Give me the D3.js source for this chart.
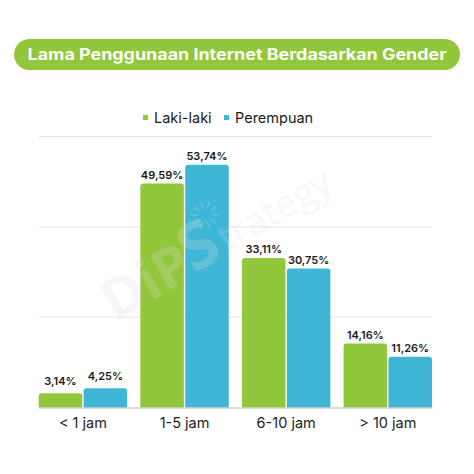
<!DOCTYPE html>
<html>
<head>
<meta charset="utf-8">
<script src="https://cdn.jsdelivr.net/npm/d3@7"></script>
<style>
  html, body { margin: 0; padding: 0; background: #fff; }
</style>
</head>
<body>
<div id="chart"></div>
<script>
var categories = ["< 1 jam", "1-5 jam", "6-10 jam", "> 10 jam"];
var seriesNames = ["Laki-laki", "Perempuan"];
var lakiLaki = [3.14, 49.59, 33.11, 14.16];
var perempuan = [4.25, 53.74, 30.75, 11.26];
var labelsLaki = ["3,14%", "49,59%", "33,11%", "14,16%"];
var labelsPerempuan = ["4,25%", "53,74%", "30,75%", "11,26%"];
var gridTicks = [20, 40, 60];
var titleText = "Lama Penggunaan Internet Berdasarkan Gender";

var width = 474, height = 474;
var green = "#93c73b", blue = "#3fb6d6";
var labelFont = "Inter, 'Open Sans', sans-serif";

var svg = d3.select("#chart")
    .append("svg")
    .attr("width", width)
    .attr("height", height)
    .style("display", "block");

// title pill
svg.append("rect")
    .attr("x", 14).attr("y", 39)
    .attr("width", 446).attr("height", 31)
    .attr("rx", 15.5)
    .attr("fill", green);

svg.append("text")
    .attr("x", 237).attr("y", 60)
    .attr("text-anchor", "middle")
    .attr("textLength", 419)
    .attr("lengthAdjust", "spacingAndGlyphs")
    .style("font-family", labelFont)
    .style("font-weight", 700)
    .style("font-size", "15.5px")
    .attr("fill", "#fbfdf6")
    .text(titleText);

var x = d3.scaleBand()
    .domain(categories)
    .range([38.7, 432])
    .paddingInner(0.13)
    .paddingOuter(0);

var x1 = d3.scaleBand()
    .domain(seriesNames)
    .range([0, x.bandwidth()])
    .paddingInner(0.03);

var y = d3.scaleLinear()
    .domain([0, 60])
    .range([407.5, 136.5]);

// grid
svg.append("g")
    .selectAll("line")
    .data(gridTicks)
    .join("line")
    .attr("x1", 38.7).attr("x2", 432)
    .attr("y1", function (d) { return y(d); })
    .attr("y2", function (d) { return y(d); })
    .attr("stroke", "#e6e6e6")
    .attr("stroke-width", 1);

function topRounded(x0, y0, w, h, r) {
    var p = d3.path();
    p.moveTo(x0, y0 + h);
    p.lineTo(x0, y0 + r);
    p.quadraticCurveTo(x0, y0, x0 + r, y0);
    p.lineTo(x0 + w - r, y0);
    p.quadraticCurveTo(x0 + w, y0, x0 + w, y0 + r);
    p.lineTo(x0 + w, y0 + h);
    p.closePath();
    return p.toString();
}

var rows = categories.map(function (c, i) {
    return [
        { cat: c, name: seriesNames[0], value: lakiLaki[i], label: labelsLaki[i], color: green },
        { cat: c, name: seriesNames[1], value: perempuan[i], label: labelsPerempuan[i], color: blue }
    ];
});

var groups = svg.append("g")
    .selectAll("g")
    .data(rows)
    .join("g")
    .attr("transform", function (d, i) { return "translate(" + x(categories[i]) + ",0)"; });

groups.selectAll("path")
    .data(function (d) { return d; })
    .join("path")
    .attr("d", function (d) {
        return topRounded(x1(d.name), y(d.value), x1.bandwidth(), y(0) - y(d.value), 3);
    })
    .attr("fill", function (d) { return d.color; });

groups.selectAll("text")
    .data(function (d) { return d; })
    .join("text")
    .attr("x", function (d) { return x1(d.name) + x1.bandwidth() / 2; })
    // the two short bars have their labels lifted a little higher
    .attr("y", function (d) { return y(d.value) - (d.value < 5 ? 8.5 : 4.5); })
    .attr("text-anchor", "middle")
    .style("font-family", labelFont)
    .style("font-weight", 600)
    .style("font-size", "11px")
    .attr("fill", "#1b1b1b")
    .text(function (d) { return d.label; });

// baseline and category labels
var axis = svg.append("g")
    .attr("transform", "translate(0," + y(0) + ")")
    .call(d3.axisBottom(x).tickSize(0).tickPadding(10));
axis.select(".domain").attr("stroke", "#bdbdbd");
axis.selectAll("text")
    .style("font-family", labelFont)
    .style("font-size", "14.5px")
    .attr("fill", "#222");

// legend
var legendX = [143, 224];
var legend = svg.append("g")
    .selectAll("g")
    .data(seriesNames)
    .join("g")
    .attr("transform", function (d, i) { return "translate(" + legendX[i] + ",118)"; });
legend.append("rect")
    .attr("y", -3).attr("width", 5).attr("height", 5)
    .attr("fill", function (d, i) { return i ? blue : green; });
legend.append("text")
    .attr("x", 11).attr("y", 5)
    .style("font-family", labelFont)
    .style("font-size", "14.5px")
    .attr("fill", "#1b1b1b")
    .text(function (d) { return d; });

// watermark sits over the bars: grey on white, pale on colour
var mark = svg.append("g")
    .attr("transform", "translate(115,322) rotate(-30)")
    .attr("fill", "#dcdcdc")
    .attr("fill-opacity", 0.24)
    .style("font-family", "'Open Sans', sans-serif");
mark.append("text").attr("x", 0).attr("y", 0)
    .style("font-weight", 700).style("font-size", "56px").text("DiP");
mark.append("text").attr("x", 92).attr("y", -2)
    .style("font-weight", 700).style("font-size", "66px").text("S");
mark.append("text").attr("x", 132).attr("y", -4)
    .style("font-size", "38px").text("trategy");

// little sun above the S
svg.append("g")
    .attr("transform", "translate(205,215)")
    .selectAll("line")
    .data(d3.range(10))
    .join("line")
    .attr("x1", function (d) { return 7 * Math.cos(d * Math.PI / 5); })
    .attr("y1", function (d) { return 7 * Math.sin(d * Math.PI / 5); })
    .attr("x2", function (d) { return 14 * Math.cos(d * Math.PI / 5); })
    .attr("y2", function (d) { return 14 * Math.sin(d * Math.PI / 5); })
    .attr("stroke", "#dcdcdc")
    .attr("stroke-opacity", 0.35)
    .attr("stroke-width", 1.2);
</script>
</body>
</html>
